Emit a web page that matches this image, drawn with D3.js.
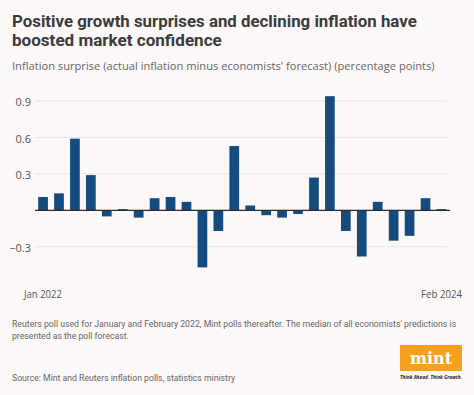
<!DOCTYPE html>
<html>
<head>
<meta charset="utf-8">
<script src="https://cdn.jsdelivr.net/npm/d3@7"></script>
<style>
  html, body { margin: 0; padding: 0; background: #fcf8f7; }
  svg { display: block; }
</style>
</head>
<body>
<script>
const months = ["Jan 2022","Feb 2022","Mar 2022","Apr 2022","May 2022","Jun 2022","Jul 2022","Aug 2022","Sep 2022","Oct 2022","Nov 2022","Dec 2022",
  "Jan 2023","Feb 2023","Mar 2023","Apr 2023","May 2023","Jun 2023","Jul 2023","Aug 2023","Sep 2023","Oct 2023","Nov 2023","Dec 2023",
  "Jan 2024","Feb 2024"];
const surprise = [0.11,0.14,0.59,0.29,-0.05,0.01,-0.06,0.10,0.11,0.07,-0.47,-0.17,
  0.53,0.04,-0.04,-0.06,-0.03,0.27,0.94,-0.17,-0.38,0.07,-0.25,-0.21,0.10,0.01];
const yTicks = [-0.3, 0.3, 0.6, 0.9];
const edgeLabels = ["Jan 2022", "Feb 2024"];
const titleLines = ["Positive growth surprises and declining inflation have", "boosted market confidence"];
const subtitle = "Inflation surprise (actual inflation minus economists' forecast) (percentage points)";
const noteLines = ["Reuters poll used for January and February 2022, Mint polls thereafter. The median of all economists' predictions is", "presented as the poll forecast."];
const source = "Source: Mint and Reuters inflation polls, statistics ministry";

const W = 474, H = 395;
const font = "'Open Sans', 'Noto Sans', sans-serif";
const tightFont = "Roboto, 'Open Sans', sans-serif";
const svg = d3.select("body").append("svg").attr("width", W).attr("height", H);
svg.append("rect").attr("width", W).attr("height", H).attr("fill", "#fcf8f7");

// place text at (x,y) and squeeze it horizontally to a target width
function fitText(txt, x, y, width, opts) {
  const el = svg.append("text").attr("x", 0).attr("y", 0)
    .attr("font-family", opts.family || font)
    .attr("font-size", opts.size)
    .attr("font-weight", opts.weight || 400)
    .attr("font-style", opts.style || "normal")
    .attr("fill", opts.fill)
    .attr("text-anchor", opts.anchor || "start")
    .text(txt);
  const w = el.node().getComputedTextLength();
  const sx = width ? width / w : 1;
  el.attr("transform", `translate(${x},${y}) scale(${sx},1)`);
  return el;
}

// Title
const tW = [405, 210];
titleLines.forEach((t, i) => fitText(t, 12, 27 + i * 19, tW[i], {size: 16, weight: 700, fill: "#3b3b3b", family: tightFont}));
fitText(subtitle, 12, 69.5, 423, {size: 11.5, fill: "#666"});

// Scales
const x = d3.scaleBand().domain(months).range([35, 449.5]).paddingInner(0.39).paddingOuter(0.2);
const y = d3.scaleLinear().domain([-0.6, 1.0]).range([283.2, 88.9]);

// Gridlines
svg.append("g").selectAll("line").data(yTicks).join("line")
  .attr("x1", 35).attr("x2", 447)
  .attr("y1", d => y(d)).attr("y2", d => y(d))
  .attr("stroke", "#e9e3e2").attr("stroke-width", 1);

// Y axis labels
const yAxis = d3.axisLeft(y).tickValues(yTicks).tickSize(0).tickPadding(0).tickFormat(d3.format(".1f"));
const ga = svg.append("g").attr("transform", "translate(31,0)").call(yAxis);
ga.select(".domain").remove();
ga.selectAll("text").attr("font-family", font).attr("font-size", 11).attr("fill", "#555").attr("dy", "0.42em");

// Bars
svg.append("g").selectAll("rect").data(surprise).join("rect")
  .attr("x", (d, i) => x(months[i]))
  .attr("width", x.bandwidth())
  .attr("y", d => y(Math.max(0, d)))
  .attr("height", d => Math.abs(y(d) - y(0)))
  .attr("fill", "#164c7d");

// Zero line
svg.append("line").attr("x1", 35).attr("x2", 450).attr("y1", y(0)).attr("y2", y(0))
  .attr("stroke", "#2b2b2b").attr("stroke-width", 1.3);

// Edge labels
fitText(edgeLabels[0], 24, 297.5, 38, {size: 11, fill: "#555"});
fitText(edgeLabels[1], 462, 297.5, 41, {size: 11, fill: "#555", anchor: "end"});

// Notes
noteLines.forEach((t, i) => fitText(t, 12, 327 + i * 11.6, i === 0 ? 445 : 117, {size: 9.6, fill: "#666", family: tightFont}));
fitText(source, 12, 381, 223, {size: 9.6, fill: "#666", family: tightFont});

// Logo
svg.append("rect").attr("x", 400).attr("y", 345).attr("width", 62).attr("height", 26).attr("fill", "#f6a01e");
svg.append("text").attr("x", 431).attr("y", 364).attr("text-anchor", "middle")
  .attr("font-family", "'DejaVu Serif', serif").attr("font-weight", 700).attr("font-size", 16)
  .attr("fill", "#fff").text("mint");
fitText("Think Ahead. Think Growth.", 431, 379, 62, {size: 4.5, weight: 700, style: "italic", fill: "#222", anchor: "middle"});
</script>
</body>
</html>
